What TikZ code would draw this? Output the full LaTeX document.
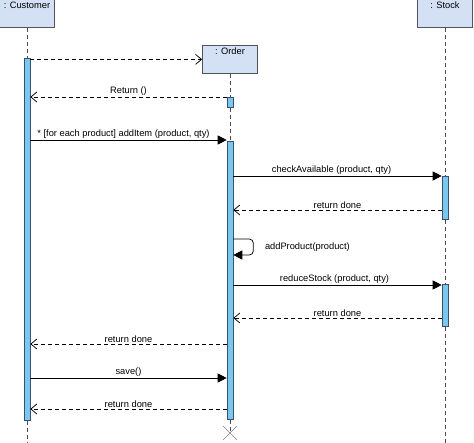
\documentclass[tikz,border=0pt]{standalone}
\usepackage{fontspec}
\setmainfont{Liberation Sans}
\usetikzlibrary{arrows.meta}
\definecolor{boxfill}{RGB}{212,224,244}
\definecolor{boxline}{RGB}{80,82,92}
\definecolor{barfill}{RGB}{122,200,240}
\definecolor{barline}{RGB}{60,80,110}

\begin{document}
\begin{tikzpicture}[x=1pt, y=-1pt,
  font=\fontsize{9.3}{11}\selectfont,
  lifebox/.style={draw=boxline, fill=boxfill, line width=0.8pt, anchor=north,
    minimum width=55pt, inner ysep=2pt, text height=7pt, text depth=17pt},
  actbar/.style={draw=barline, fill=barfill, line width=0.6pt, anchor=north,
    minimum width=6pt, inner sep=0pt},
  lifeline/.style={draw=gray!60!black, dash pattern=on 4pt off 3pt, line width=0.8pt},
  call/.style={-{Triangle[length=9pt,width=9pt]}, line width=0.75pt},
  reply/.style={-{Straight Barb[length=6pt,width=10pt]}, dash pattern=on 4pt off 3pt, line width=0.75pt},
  msg/.style={above, inner sep=1pt},
  ]
\useasboundingbox (0,0) rectangle (474,443);

% objects
\node[lifebox] (customer) at (27,-1) {: Customer};
\node[lifebox] (order) at (230,45) {: Order};
\node[lifebox] (stock) at (445,-1) {: Stock};

% activations
\node[actbar, minimum height=362pt] (cbar) at (27,58) {};
\node[actbar, minimum height=10pt] (obar1) at (230,97) {};
\node[actbar, minimum height=278pt] (obar2) at (230,141) {};
\node[actbar, minimum height=43pt] (sbar1) at (445,176) {};
\node[actbar, minimum height=42pt] (sbar2) at (445,284) {};

% message rows
\foreach \n/\y in {r2/97, r3/140, r4/176, r5/210, r6/239, r7/285, r8/318, r9/344, r10/378, r11/409}
  \coordinate (\n) at (0,\y);
\coordinate (cend) at (27,443);
\coordinate (send) at (445,443);
\coordinate (oend) at (230,433);

% lifelines
\draw[lifeline] (customer.south) -- (cbar.north);
\draw[lifeline] (cbar.south) -- (cend);
\draw[lifeline] (order.south) -- (obar1.north);
\draw[lifeline] (obar1.south) -- (obar2.north);
\draw[lifeline] (obar2.south) -- (oend);
\draw[lifeline] (stock.south) -- (sbar1.north);
\draw[lifeline] (sbar1.south) -- (sbar2.north);
\draw[lifeline] (sbar2.south) -- (send);
\draw[gray, line width=0.7pt] (oend) +(-7,-7) -- +(7,7) (oend) +(-7,7) -- +(7,-7);

% messages
\draw[reply] (cbar.east |- order.west) -- (order.west);
\draw[reply] (obar1.west |- r2) -- node[msg] {Return ()} (cbar.east |- r2);
\draw[call] (cbar.east |- r3) -- node[msg, xshift=-5pt] {* [for each product] addItem (product, qty)} (obar2.west |- r3);
\draw[call] (obar2.east |- r4) -- node[msg, xshift=-6pt] {checkAvailable (product, qty)} (sbar1.west |- r4);
\draw[reply] (sbar1.west |- r5) -- node[msg] {return done} (obar2.east |- r5);
\draw[call, rounded corners=4pt] (obar2.east |- r6) -- ++(20,0) -- ++(0,16)
  node[right=8pt, pos=0.5] (addp) {addProduct(product)} -- ++(-20,0);
\draw[call] (obar2.east |- r7) -- node[msg, xshift=-3pt] {reduceStock (product, qty)} (sbar2.west |- r7);
\draw[reply] (sbar2.west |- r8) -- node[msg] {return done} (obar2.east |- r8);
\draw[reply] (obar2.west |- r9) -- node[msg] {return done} (cbar.east |- r9);
\draw[call] (cbar.east |- r10) -- node[msg] {save()} (obar2.west |- r10);
\draw[reply] (obar2.west |- r11) -- node[msg] {return done} (cbar.east |- r11);
\end{tikzpicture}
\end{document}
